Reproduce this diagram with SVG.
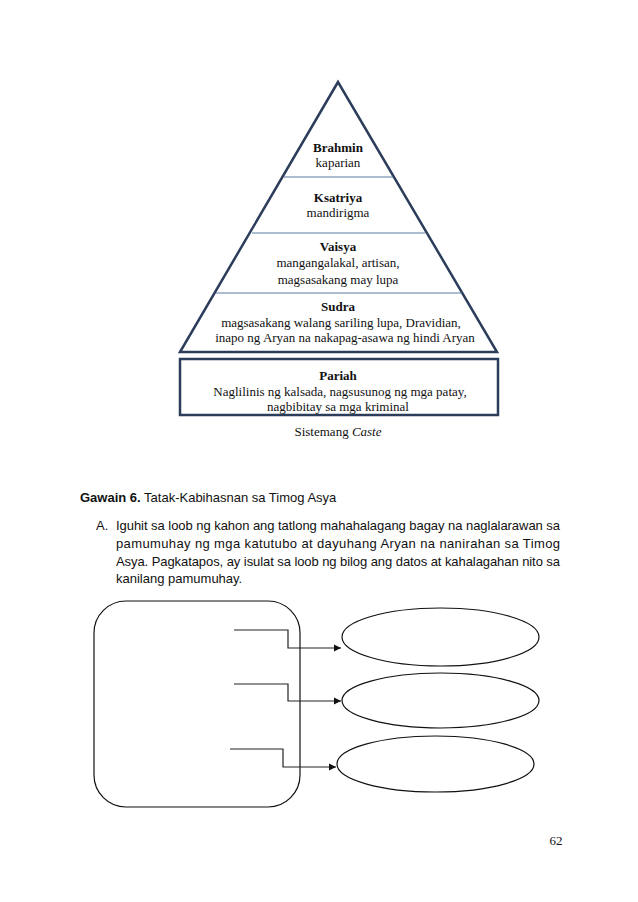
<svg xmlns="http://www.w3.org/2000/svg" width="638" height="902" viewBox="0 0 638 902">
<defs>
<style>
.ser{font-family:"Liberation Serif","Times New Roman",serif;font-size:13px;fill:#111;text-anchor:middle}
.b{font-weight:bold}
.sans{font-family:"Liberation Sans",Arial,sans-serif;font-size:13px;fill:#111}
.thick{fill:none;stroke:#2b3d5a;stroke-width:2.5}
.thin{stroke:#5a7aa3;stroke-width:1}
.shape{fill:none;stroke:#111;stroke-width:1.2}
.conn{fill:none;stroke:#222;stroke-width:1.2}
</style>
<marker id="arr" markerWidth="8" markerHeight="8" refX="7" refY="4" orient="auto" markerUnits="userSpaceOnUse">
<path d="M0,0.5 L7,4 L0,7.5 Z" fill="#111"/>
</marker>
</defs>
<rect width="638" height="902" fill="#fff"/>

<g id="pyramid">
<polygon class="thick" points="338,82 180,352 497,352"/>
<line class="thin" x1="284" y1="177" x2="393" y2="177"/>
<line class="thin" x1="252" y1="233" x2="425" y2="233"/>
<line class="thin" x1="216" y1="293" x2="462" y2="293"/>
</g>
<g id="brahmin">
<text class="ser b" x="338" y="152">Brahmin</text>
<text class="ser" x="338" y="167">kaparian</text>
</g>
<g id="ksatriya">
<text class="ser b" x="338" y="202">Ksatriya</text>
<text class="ser" x="338" y="217">mandirigma</text>
</g>
<g id="vaisya">
<text class="ser b" x="338" y="251">Vaisya</text>
<text class="ser" x="338" y="267">mangangalakal, artisan,</text>
<text class="ser" x="338" y="284">magsasakang may lupa</text>
</g>
<g id="sudra">
<text class="ser b" x="338" y="311">Sudra</text>
<text class="ser" x="341" y="327">magsasakang walang sariling lupa, Dravidian,</text>
<text class="ser" x="345" y="342">inapo ng Aryan na nakapag-asawa ng hindi Aryan</text>
</g>
<g id="pariah">
<rect class="thick" x="180" y="359" width="318" height="56"/>
<text class="ser b" x="338" y="380">Pariah</text>
<text class="ser" x="340" y="396">Naglilinis ng kalsada, nagsusunog ng mga patay,</text>
<text class="ser" x="338" y="411">nagbibitay sa mga kriminal</text>
</g>
<text class="ser" x="338" y="436">Sistemang <tspan font-style="italic">Caste</tspan></text>

<text class="sans" x="80" y="502"><tspan font-weight="bold">Gawain 6.</tspan> Tatak-Kabihasnan sa Timog Asya</text>
<text class="sans" x="96" y="530">A.</text>
<text class="sans" x="116" y="530" textLength="444" lengthAdjust="spacing">Iguhit sa loob ng kahon ang tatlong mahahalagang bagay na naglalarawan sa</text>
<text class="sans" x="116" y="548" textLength="444" lengthAdjust="spacing">pamumuhay ng mga katutubo at dayuhang Aryan na nanirahan sa Timog</text>
<text class="sans" x="116" y="566" textLength="444" lengthAdjust="spacing">Asya. Pagkatapos, ay isulat sa loob ng bilog ang datos at kahalagahan nito sa</text>
<text class="sans" x="116" y="583">kanilang pamumuhay.</text>

<g id="box">
<rect class="shape" x="94" y="601" width="206" height="206" rx="32" ry="32"/>
</g>
<g id="oval1"><ellipse class="shape" cx="440.5" cy="637" rx="98.5" ry="29"/></g>
<g id="oval2"><ellipse class="shape" cx="440.5" cy="700.5" rx="98.5" ry="27.5"/></g>
<g id="oval3"><ellipse class="shape" cx="435.5" cy="764" rx="98.5" ry="28"/></g>

<g id="connectors">
<path class="conn" d="M234,630 H288 V648 H341" marker-end="url(#arr)"/>
<path class="conn" d="M234,684 H288 V701 H341" marker-end="url(#arr)"/>
<path class="conn" d="M230,749 H283 V767 H336" marker-end="url(#arr)"/>
</g>

<text class="ser" x="556" y="845">62</text>
</svg>
